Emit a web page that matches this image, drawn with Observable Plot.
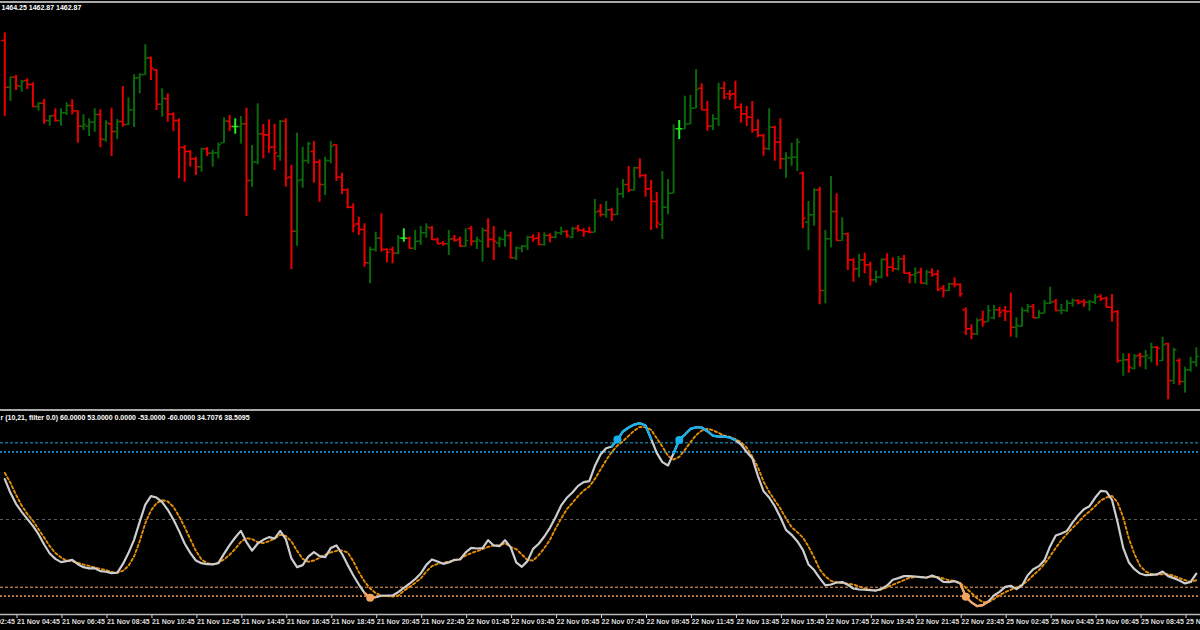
<!DOCTYPE html>
<html>
<head>
<meta charset="utf-8">
<script src="https://cdn.jsdelivr.net/npm/d3@7"></script>
<script src="https://cdn.jsdelivr.net/npm/@observablehq/plot@0.6"></script>
<style>
html, body { margin: 0; padding: 0; background: #000; overflow: hidden; }
#chart { position: relative; width: 1200px; height: 630px; background: #000; overflow: hidden; }
#price { position: absolute; left: 0; top: 0; }
#osc { position: absolute; left: 0; top: 411px; }
.hline { position: absolute; left: 0; width: 1200px; background: #a9a9a9; }
</style>
</head>
<body>
<div id="chart">
  <div id="price"></div>
  <div id="osc"></div>
  <div class="hline" style="top:1px;height:2px"></div>
  <div class="hline" style="top:409px;height:2px"></div>
</div>
<script>
// ---------- DATA (15-minute OHLC bars, left to right) ----------
const open = [1496.00,1491.33,1492.33,1491.43,1492.00,1491.60,1489.40,1489.73,1488.00,1488.50,
1488.00,1488.77,1489.50,1488.97,1487.43,1487.43,1487.83,1488.60,1486.10,1487.67,
1486.90,1487.90,1487.60,1489.07,1492.27,1492.60,1494.27,1493.07,1489.63,1490.17,
1488.63,1488.00,1485.30,1484.90,1484.17,1483.37,1485.17,1484.73,1484.77,1485.77,
1487.93,1487.40,1487.40,1487.67,1482.00,1483.83,1486.67,1486.57,1485.33,1484.43,
1487.93,1482.33,1476.93,1482.07,1484.00,1484.90,1483.83,1481.60,1484.00,1485.57,
1482.33,1481.07,1479.33,1477.67,1477.10,1473.77,1475.10,1476.23,1475.10,1475.10,
1474.73,1476.23,1476.23,1475.23,1475.93,1476.77,1477.27,1476.10,1475.73,1475.67,
1476.17,1476.10,1475.43,1477.20,1475.93,1475.93,1477.00,1476.10,1475.77,1476.10,
1476.50,1474.27,1475.23,1475.43,1476.33,1476.23,1475.60,1476.50,1476.33,1476.77,
1476.90,1476.33,1477.23,1477.00,1476.90,1476.83,1478.93,1478.60,1479.07,1478.60,
1480.67,1481.60,1481.07,1483.27,1482.50,1481.17,1479.90,1477.60,1479.33,1480.73,
1487.17,1487.17,1487.67,1489.23,1491.23,1489.07,1487.43,1488.17,1491.23,1490.67,
1490.67,1489.33,1488.67,1488.33,1487.07,1486.50,1485.17,1487.33,1485.83,1484.17,
1484.27,1484.33,1482.73,1477.83,1478.57,1481.07,1471.00,1476.17,1478.90,1476.00,
1476.67,1474.07,1473.17,1474.07,1473.57,1472.07,1472.33,1474.10,1473.33,1473.17,
1474.17,1472.73,1472.57,1472.83,1471.73,1472.83,1472.67,1471.23,1471.00,1471.67,
1471.60,1469.07,1467.17,1466.67,1468.07,1467.90,1468.27,1469.07,1469.00,1468.90,
1467.33,1467.43,1469.00,1469.40,1468.27,1468.73,1469.73,1469.90,1469.00,1469.00,
1469.73,1470.00,1469.90,1469.83,1469.83,1470.40,1470.23,1469.33,1468.90,1464.00,
1464.07,1463.23,1464.50,1464.40,1464.27,1465.33,1464.00,1465.67,1462.00,1464.00,
1461.90,1463.07,1463.83];
const high = [1496.77,1492.33,1492.50,1492.00,1492.17,1491.77,1489.77,1490.10,1488.50,1489.17,
1489.17,1489.77,1490.07,1488.97,1488.57,1488.17,1489.17,1489.07,1487.97,1489.23,
1488.10,1491.40,1490.27,1492.57,1492.67,1495.57,1494.33,1493.10,1491.17,1490.67,
1488.77,1488.17,1485.50,1485.00,1484.33,1485.23,1485.30,1485.03,1485.73,1488.27,
1488.50,1488.17,1488.40,1489.23,1485.50,1489.67,1487.60,1488.07,1487.63,1488.00,
1488.17,1483.50,1486.73,1485.33,1485.83,1485.90,1484.07,1484.33,1485.90,1485.57,
1482.73,1481.17,1479.67,1478.33,1477.67,1475.33,1476.83,1478.67,1475.17,1475.33,
1476.50,1477.17,1476.33,1477.00,1477.40,1477.67,1477.40,1476.23,1475.90,1477.00,
1476.50,1476.33,1477.17,1477.40,1476.33,1477.23,1478.17,1477.40,1476.33,1477.00,
1476.83,1475.33,1475.50,1476.43,1476.57,1476.77,1476.77,1476.67,1476.90,1477.33,
1477.00,1477.33,1477.50,1477.17,1477.33,1480.10,1479.60,1479.90,1479.23,1481.23,
1482.10,1483.40,1483.33,1484.17,1482.60,1482.00,1480.80,1482.90,1482.10,1487.57,
1488.00,1490.43,1490.50,1493.10,1491.67,1489.90,1488.57,1491.73,1491.83,1491.00,
1491.93,1489.67,1489.40,1489.90,1488.07,1486.60,1489.17,1487.43,1488.17,1484.77,
1485.73,1486.17,1482.83,1479.90,1481.17,1481.33,1477.00,1482.40,1480.67,1478.27,
1476.73,1474.17,1474.60,1474.73,1473.83,1472.93,1474.17,1474.67,1474.27,1474.40,
1474.50,1472.83,1473.27,1473.23,1473.00,1473.17,1473.00,1471.50,1471.73,1472.27,
1471.67,1469.27,1467.57,1468.17,1468.93,1469.50,1469.50,1469.33,1469.40,1470.73,
1468.27,1469.27,1469.60,1469.60,1469.00,1470.00,1471.33,1470.10,1469.60,1470.00,
1470.17,1470.07,1470.07,1470.00,1470.60,1470.57,1470.33,1470.60,1469.00,1464.67,
1464.67,1464.60,1464.73,1465.00,1465.73,1465.40,1466.33,1465.73,1465.23,1464.17,
1463.33,1464.33,1465.27];
const low = [1488.40,1489.90,1491.00,1490.83,1491.10,1489.33,1488.93,1487.63,1487.43,1487.83,
1487.43,1488.50,1488.57,1485.73,1487.00,1486.40,1486.83,1485.27,1485.83,1484.40,
1486.10,1487.33,1487.50,1487.30,1490.67,1492.50,1492.00,1489.00,1488.33,1487.83,
1486.90,1482.17,1481.83,1483.33,1482.50,1482.83,1484.40,1483.33,1484.17,1485.73,
1486.90,1486.63,1485.63,1478.40,1481.33,1483.57,1484.17,1484.73,1483.00,1483.93,
1481.33,1473.07,1475.43,1481.23,1483.63,1481.73,1479.83,1480.50,1483.67,1481.90,
1480.60,1479.17,1476.77,1476.50,1473.33,1471.67,1474.83,1474.83,1473.77,1473.67,
1474.57,1475.83,1475.17,1475.00,1475.50,1476.23,1476.00,1475.60,1475.43,1474.50,
1475.83,1475.33,1475.33,1475.43,1475.10,1473.83,1475.23,1474.00,1475.27,1475.33,
1474.17,1474.00,1474.77,1475.00,1475.83,1475.50,1475.43,1475.77,1476.17,1476.50,
1476.23,1476.17,1476.83,1476.33,1476.67,1476.77,1478.33,1478.23,1477.90,1478.50,
1480.23,1480.77,1480.93,1482.23,1480.33,1477.00,1477.17,1476.10,1478.57,1480.67,
1486.10,1487.10,1487.57,1489.17,1489.07,1486.93,1487.00,1487.40,1490.07,1490.00,
1489.07,1487.73,1487.40,1486.73,1486.27,1484.43,1485.00,1483.93,1483.10,1482.23,
1483.43,1482.90,1477.17,1475.00,1477.43,1469.57,1469.67,1475.27,1475.93,1475.93,
1473.00,1471.83,1472.27,1472.67,1471.43,1471.73,1472.17,1472.33,1472.83,1472.93,
1472.67,1471.67,1471.67,1471.67,1471.50,1472.33,1470.90,1470.27,1470.90,1471.27,
1470.33,1466.50,1466.07,1466.50,1467.33,1467.83,1468.07,1468.27,1467.90,1466.33,
1466.23,1467.33,1468.73,1468.23,1468.17,1468.67,1469.60,1468.90,1468.57,1468.83,
1469.33,1469.57,1469.33,1468.93,1469.60,1469.90,1469.27,1467.83,1463.73,1462.43,
1462.73,1463.07,1463.33,1463.07,1463.77,1463.43,1463.90,1460.07,1461.60,1461.50,
1460.73,1462.83,1463.33];
const close = [1491.33,1492.33,1491.50,1491.90,1491.60,1489.40,1489.73,1488.00,1488.43,1488.00,
1488.77,1489.50,1488.97,1487.43,1487.60,1487.83,1488.60,1486.17,1487.77,1486.90,
1487.90,1487.60,1489.07,1492.23,1492.60,1494.23,1493.23,1489.63,1490.23,1488.63,
1488.00,1485.30,1484.90,1484.17,1483.37,1485.17,1484.73,1484.77,1485.60,1487.93,
1487.40,1487.40,1487.67,1482.00,1483.83,1486.67,1486.57,1485.33,1484.77,1487.93,
1482.23,1476.93,1481.97,1484.00,1485.67,1483.83,1481.60,1484.00,1485.43,1482.33,
1481.07,1479.33,1477.50,1477.10,1473.77,1475.10,1476.23,1475.10,1474.83,1474.73,
1476.27,1476.23,1475.23,1475.93,1476.77,1477.33,1476.10,1475.67,1475.67,1476.10,
1476.00,1475.43,1476.00,1475.93,1476.07,1477.00,1476.10,1475.93,1476.17,1476.50,
1474.27,1475.27,1475.43,1476.33,1476.17,1475.60,1476.50,1476.33,1476.77,1476.90,
1476.50,1477.17,1477.07,1476.90,1476.83,1478.83,1478.60,1479.07,1478.60,1480.67,
1481.60,1481.07,1483.27,1482.50,1481.17,1479.90,1477.77,1479.33,1480.73,1487.17,
1487.17,1487.67,1489.23,1491.10,1489.07,1487.43,1488.17,1491.23,1490.33,1490.57,
1489.33,1488.67,1488.33,1487.07,1486.50,1485.23,1487.33,1485.83,1484.17,1484.27,
1484.33,1485.83,1478.23,1478.57,1481.07,1471.00,1476.17,1478.90,1476.00,1476.67,
1474.07,1473.17,1474.07,1473.57,1472.07,1472.33,1474.10,1473.33,1473.17,1474.17,
1472.73,1472.57,1472.73,1471.73,1472.83,1472.57,1471.07,1471.00,1471.67,1471.60,
1470.67,1467.17,1466.67,1468.00,1467.83,1469.00,1469.07,1468.83,1468.90,1467.33,
1467.50,1469.00,1469.40,1468.27,1468.73,1469.73,1469.83,1469.00,1469.03,1469.73,
1470.00,1469.77,1469.83,1469.90,1470.33,1470.17,1469.33,1468.83,1464.00,1464.07,
1463.33,1464.40,1464.40,1464.50,1465.33,1465.23,1465.57,1462.00,1465.07,1461.90,
1463.07,1463.83,1464.40];

// oscillator: main line and its signal line
const mainLine = [31.6,20.9,12.3,6.0,0.5,-5.0,-11.5,-19.6,-26.6,-30.8,
-33.4,-32.6,-31.6,-35.0,-37.3,-38.3,-38.1,-40.4,-40.9,-42.0,
-41.7,-35.0,-26.3,-15.9,-1.8,11.7,18.3,17.2,13.6,7.6,
0.0,-8.9,-18.8,-26.1,-32.1,-34.2,-35.0,-35.2,-34.2,-26.9,
-20.1,-14.1,-8.9,-17.7,-24.3,-18.8,-15.9,-13.8,-14.9,-8.9,
-15.4,-30.5,-37.3,-35.7,-29.0,-25.6,-28.7,-29.5,-22.4,-20.3,
-26.9,-35.5,-43.6,-50.9,-57.4,-61.3,-60.8,-59.7,-59.5,-59.5,
-56.9,-53.5,-50.3,-46.7,-42.3,-35.5,-31.3,-32.9,-34.7,-33.6,
-31.6,-31.3,-25.8,-22.2,-22.7,-22.4,-16.2,-20.3,-20.9,-16.2,
-21.6,-33.6,-37.0,-32.6,-23.0,-19.0,-13.3,-6.5,1.8,11.0,
17.0,21.1,26.3,29.2,30.0,42.0,50.9,55.8,57.1,62.6,
68.9,72.0,74.3,75.4,73.6,63.1,52.2,44.9,42.3,51.9,
62.3,66.5,70.9,72.2,72.0,69.1,65.7,64.9,64.9,64.2,
62.1,58.7,52.9,48.0,34.2,22.2,17.2,10.4,1.8,-8.1,
-12.0,-17.0,-23.7,-35.2,-39.6,-45.9,-51.6,-50.9,-49.3,-49.0,
-51.1,-54.0,-54.8,-55.0,-55.3,-55.6,-54.3,-51.6,-47.2,-45.9,
-44.3,-44.3,-44.6,-45.1,-45.6,-43.8,-45.6,-48.8,-49.0,-48.3,
-50.0,-60.5,-64.9,-67.8,-67.0,-64.2,-59.5,-56.6,-52.7,-51.9,
-54.5,-51.6,-43.6,-38.9,-36.5,-31.8,-20.9,-12.5,-11.0,-8.9,
-2.3,3.4,8.1,10.4,17.0,22.4,21.9,15.4,-2.1,-22.2,
-33.6,-38.9,-42.3,-43.6,-43.3,-43.0,-40.7,-44.3,-45.9,-47.7,
-50.1,-48.8,-42.3];
const signalLine = [36.5,28.7,19.3,11.0,4.4,-1.0,-7.6,-14.1,-20.9,-26.3,
-29.7,-32.3,-32.6,-33.9,-35.2,-36.3,-37.6,-38.6,-39.6,-41.2,
-41.5,-40.2,-36.3,-29.0,-17.0,-2.9,7.0,12.8,15.1,14.1,
9.9,2.6,-6.0,-15.4,-24.5,-31.3,-34.2,-35.0,-33.9,-31.3,
-27.6,-23.0,-17.5,-14.6,-15.4,-17.7,-18.5,-17.0,-14.9,-12.0,
-12.8,-17.2,-24.5,-30.8,-33.1,-32.1,-30.0,-27.6,-25.8,-24.5,
-24.3,-25.8,-32.6,-41.2,-48.5,-54.0,-57.6,-59.5,-60.0,-60.3,
-59.7,-55.8,-52.9,-49.6,-46.2,-40.7,-36.5,-34.7,-33.9,-33.1,
-32.1,-30.8,-28.2,-26.3,-24.8,-23.2,-21.4,-20.3,-20.3,-18.5,
-21.6,-23.2,-27.4,-31.8,-32.1,-27.9,-22.4,-15.9,-7.0,0.8,
8.1,13.0,18.3,22.7,25.8,31.8,39.1,46.4,52.9,57.9,
61.3,65.5,69.6,72.5,72.2,70.2,63.6,57.1,49.8,46.9,
49.0,54.5,60.5,66.0,69.6,70.9,69.9,67.8,65.7,64.7,
62.9,60.5,56.3,49.3,40.9,29.7,21.6,15.1,8.6,0.8,
-6.0,-9.9,-14.1,-21.1,-29.7,-39.1,-44.6,-48.0,-49.3,-49.8,
-50.3,-50.9,-52.4,-54.0,-55.0,-55.6,-54.8,-52.9,-51.1,-49.3,
-47.5,-45.6,-45.1,-45.1,-45.1,-44.9,-45.1,-46.2,-47.5,-48.0,
-49.8,-53.5,-57.6,-61.6,-64.7,-64.7,-62.3,-59.2,-56.9,-55.0,
-53.2,-51.1,-48.0,-43.6,-39.6,-34.7,-28.7,-22.2,-16.2,-11.2,
-6.5,-2.1,2.6,6.3,10.4,14.9,17.2,18.5,13.3,1.6,
-14.9,-27.1,-36.3,-40.7,-42.8,-43.0,-42.8,-42.8,-44.1,-45.9,
-47.5,-49.0,-47.5];

// indicator levels (as listed in the indicator header)
const levels = [60, 53, 0, -53, -60];

// time-axis tick labels (one every 8 bars = 2 hours)
const tickLabels = ["21 Nov 02:45","21 Nov 04:45","21 Nov 06:45","21 Nov 08:45","21 Nov 10:45",
"21 Nov 12:45","21 Nov 14:45","21 Nov 16:45","21 Nov 18:45","21 Nov 20:45","21 Nov 22:45",
"22 Nov 01:45","22 Nov 03:45","22 Nov 05:45","22 Nov 07:45","22 Nov 09:45","22 Nov 11:45",
"22 Nov 13:45","22 Nov 15:45","22 Nov 17:45","22 Nov 19:45","22 Nov 21:45","22 Nov 23:45",
"25 Nov 02:45","25 Nov 04:45","25 Nov 06:45","25 Nov 08:45","25 Nov 10:45"];
const firstTickBar = -6, barsPerTick = 8;

const priceHeader = "1464.25 1462.87 1462.87";
const oscHeader = "r (10,21, filter 0.0) 60.0000 53.0000 0.0000 -53.0000 -60.0000 34.7076 38.5095";

// ---------- BUILD ----------
const FONT = "'Liberation Sans', Arial, sans-serif";
const xDomain = [-0.765, 212.75];

const bars = open.map((o, i) => ({
  i, o, h: high[i], l: low[i], c: close[i],
  dir: close[i] > o ? "up" : close[i] < o ? "down" : "flat"
}));
const barColor = {domain: ["up", "down", "flat"], range: ["#0b680b", "#e80000", "#22ee22"]};

const priceChart = Plot.plot({
  width: 1200, height: 409, margin: 0,
  style: {background: "#000", fontFamily: FONT, fontSize: "7px"},
  x: {domain: xDomain, axis: null},
  y: {domain: [1459.1, 1500], axis: null},
  color: barColor,
  marks: [
    Plot.ruleX(bars, {x: "i", y1: "l", y2: "h", stroke: "dir", strokeWidth: 2}),
    Plot.ruleY(bars, {y: "o", x1: d => d.i - 0.55, x2: "i", stroke: "dir", strokeWidth: 1.5}),
    Plot.ruleY(bars, {y: "c", x1: "i", x2: d => d.i + 0.55, stroke: "dir", strokeWidth: 1.5}),
    Plot.text([priceHeader], {text: d => d, frameAnchor: "top-left", dx: 1, dy: 7,
      lineAnchor: "middle", textAnchor: "start", fill: "#ffffff", fontSize: 7, fontWeight: 600})
  ]
});
document.getElementById("price").appendChild(priceChart);

const osc = mainLine.map((m, i) => ({i, main: m, signal: signalLine[i]}));
const hiLevel = levels[0], loLevel = levels[4];
const above = d => d.main > hiLevel, below = d => d.main < loLevel;
const zone = test => osc.map((d, i) => ({
  i, v: (test(d) || (osc[i + 1] && test(osc[i + 1]))) ? d.main : NaN
}));
const cross = test => osc.filter((d, i) => test(d) && i > 0 && !test(osc[i - 1]));

const tickBars = tickLabels.map((_, k) => firstTickBar + barsPerTick * k);
const labelOf = new Map(tickBars.map((b, k) => [b, tickLabels[k]]));

const levelStyle = [
  {stroke: "#1ea3de", strokeWidth: 1, strokeDasharray: "3,2"},
  {stroke: "#1a90cc", strokeWidth: 1.7, strokeDasharray: "2,2"},
  {stroke: "#5c5c5c", strokeWidth: 1, strokeDasharray: "3,3"},
  {stroke: "#f2a366", strokeWidth: 1, strokeDasharray: "3,2"},
  {stroke: "#cc8448", strokeWidth: 1.7, strokeDasharray: "2,2"}
];

const oscChart = Plot.plot({
  width: 1200, height: 219, marginTop: 0, marginLeft: 0, marginRight: 0, marginBottom: 16,
  style: {background: "#000", fontFamily: FONT, fontSize: "7px", color: "#dcdcdc"},
  x: {domain: xDomain, label: null},
  y: {domain: [-80, 80], range: [210.2, 5.8], axis: null},
  marks: [
    ...levels.map((lv, k) => Plot.ruleY([lv], levelStyle[k])),
    Plot.line(osc, {x: "i", y: "signal", stroke: "#e38d08", strokeWidth: 1.9, strokeDasharray: "2.5,2.5"}),
    Plot.line(osc, {x: "i", y: "main", stroke: "#cdcdcd", strokeWidth: 2.2}),
    Plot.line(zone(above), {x: "i", y: "v", stroke: "#14b2ef", strokeWidth: 2.2}),
    Plot.line(zone(below), {x: "i", y: "v", stroke: "#f4a460", strokeWidth: 2.2}),
    Plot.dot(cross(above), {x: "i", y: "main", r: 4, fill: "#14b2ef"}),
    Plot.dot(cross(below), {x: "i", y: "main", r: 4, fill: "#f4a460"}),
    Plot.text([oscHeader], {text: d => d, frameAnchor: "top-left", dx: 0, dy: 6.3,
      lineAnchor: "middle", textAnchor: "start", fill: "#ffffff", fontSize: 7, fontWeight: 600}),
    Plot.axisX({ticks: tickBars, tickFormat: d => labelOf.get(d), anchor: "bottom",
      tickSize: 4, tickPadding: 1, textAnchor: "start", dx: 1, fontSize: 7, fontWeight: 600,
      color: "#dcdcdc", label: null})
  ]
});
document.getElementById("osc").appendChild(oscChart);

// time-axis base line at the bottom of the oscillator frame
d3.select(oscChart).append("line")
  .attr("x1", 0).attr("x2", 1200)
  .attr("y1", 219 - 16 + 0.5).attr("y2", 219 - 16 + 0.5)
  .attr("stroke", "#b8b8b8").attr("stroke-width", 1.6);
</script>
</body>
</html>
